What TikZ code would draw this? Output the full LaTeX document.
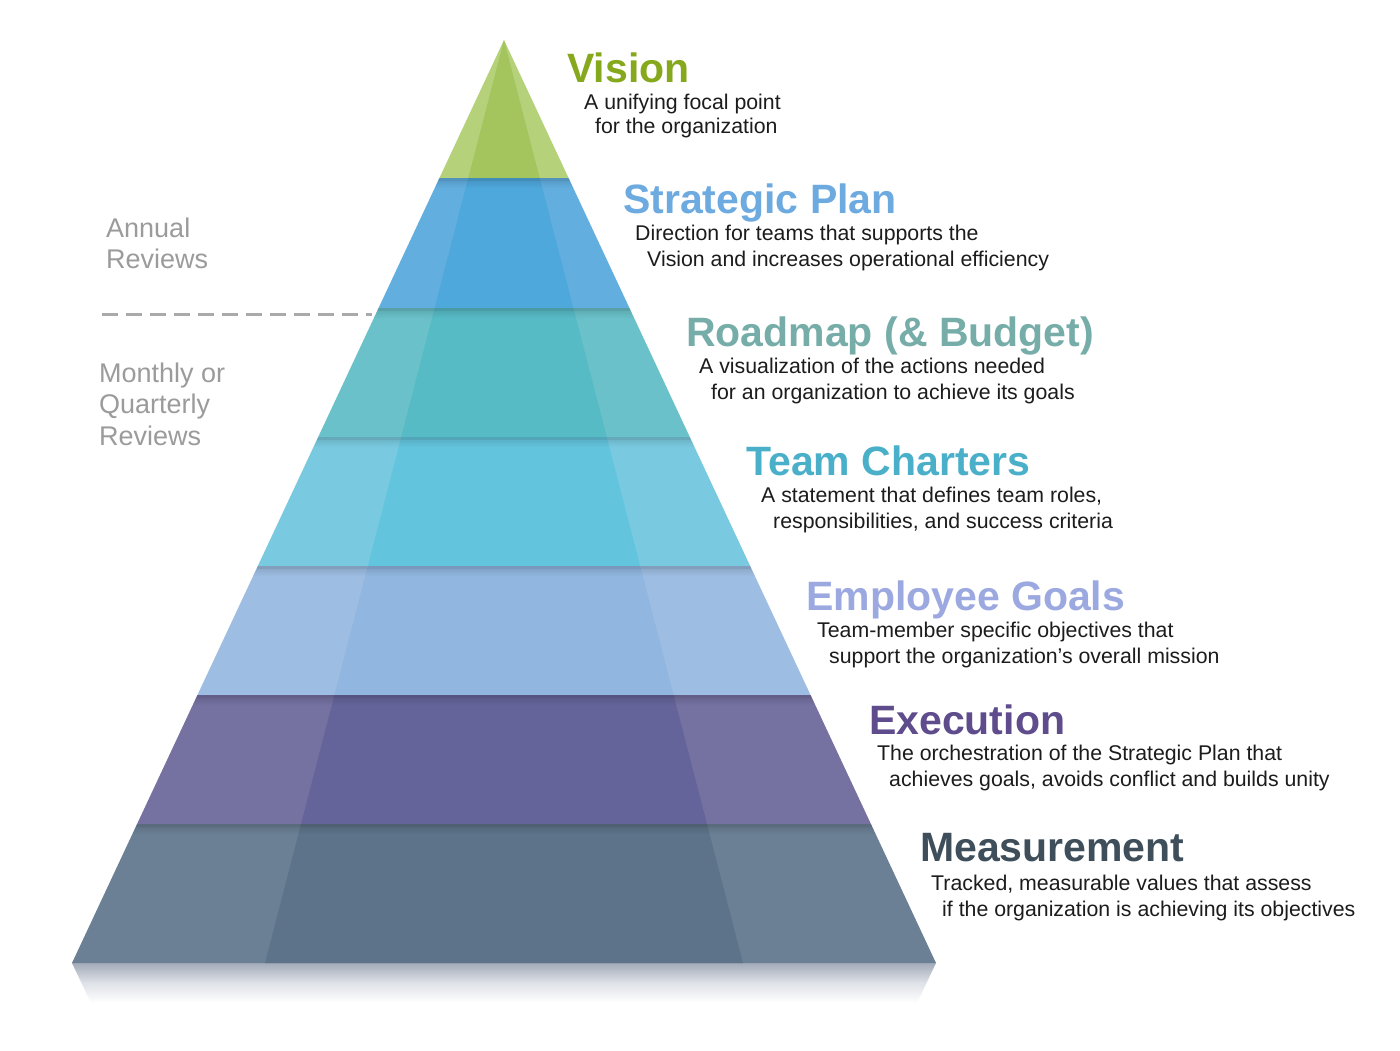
\documentclass[tikz,border=0pt]{standalone}
\usepackage{fontspec}
\setmainfont{Liberation Sans}
\usetikzlibrary{fadings}
\definecolor{visS}{HTML}{B5D27B}
\definecolor{visC}{HTML}{A4C45E}
\definecolor{strS}{HTML}{62AEDF}
\definecolor{strC}{HTML}{4FA8DC}
\definecolor{roaS}{HTML}{6AC1C9}
\definecolor{roaC}{HTML}{57BBC6}
\definecolor{teaS}{HTML}{79CAE0}
\definecolor{teaC}{HTML}{63C5DD}
\definecolor{empS}{HTML}{9DBDE2}
\definecolor{empC}{HTML}{91B6DF}
\definecolor{exeS}{HTML}{7571A1}
\definecolor{exeC}{HTML}{65649A}
\definecolor{meaS}{HTML}{6B8095}
\definecolor{meaC}{HTML}{5D7389}
\definecolor{tVis}{HTML}{86A81C}
\definecolor{tStr}{HTML}{6CAAE0}
\definecolor{tRoa}{HTML}{76ADA8}
\definecolor{tTea}{HTML}{4AAFC9}
\definecolor{tEmp}{HTML}{9CA9E0}
\definecolor{tExe}{HTML}{5E4C8C}
\definecolor{tMea}{HTML}{3F4E5B}
\definecolor{tDesc}{HTML}{1C1C1C}
\definecolor{tSide}{HTML}{9B9B9B}
\definecolor{reflC}{HTML}{A3ABBA}
\newcommand\pyrlayer[5]{%
  \pgfmathsetmacro\oLt{504-0.46804*(#1-40)}%
  \pgfmathsetmacro\oRt{504+0.46804*(#1-40)}%
  \pgfmathsetmacro\oLb{504-0.46804*(#2-40)}%
  \pgfmathsetmacro\oRb{504+0.46804*(#2-40)}%
  \pgfmathsetmacro\iLt{504-0.2589*(#1-40)}%
  \pgfmathsetmacro\iRt{504+0.2589*(#1-40)}%
  \pgfmathsetmacro\iLb{504-0.2589*(#2-40)}%
  \pgfmathsetmacro\iRb{504+0.2589*(#2-40)}%
  \fill[#3] (\oLt,#1) -- (\oRt,#1) -- (\oRb,#2) -- (\oLb,#2) -- cycle;
  \fill[#4] (\iLt,#1) -- (\iRt,#1) -- (\iRb,#2) -- (\iLb,#2) -- cycle;
  \ifnum#5=1
  \begin{scope}
    \clip (\oLt,#1) -- (\oRt,#1) -- (\oRb,#2) -- (\oLb,#2) -- cycle;
    \fill[black, opacity=0.16] (0,#1) rectangle (1400,#1+2.5);
    \fill[black, opacity=0.10, path fading=south] (0,#1+2.5) rectangle (1400,#1+10);
  \end{scope}
  \fi
}
\begin{document}
\begin{tikzpicture}[x=1pt, y=-1pt,
  title/.style={anchor=base west, inner sep=0pt, font=\fontsize{41}{45}\selectfont\bfseries},
  desc/.style={anchor=base west, inner sep=0pt, text=tDesc, font=\fontsize{21.3}{25}\selectfont},
  side/.style={anchor=base west, inner sep=0pt, text=tSide, font=\fontsize{27}{31}\selectfont},
  reviewline/.style={draw=tSide!85, line width=3pt, dash pattern=on 16pt off 8pt}]
\useasboundingbox (0,0) rectangle (1400,1050);
\fill[white] (0,0) rectangle (1400,1050);
% reflection
\shade[top color=reflC, bottom color=white, middle color=reflC!35] (72,963) -- (936,963) -- (917,1003) -- (91,1003) -- cycle;
% pyramid layers
\pyrlayer{40}{178}{visS}{visC}{0}
\pyrlayer{178}{308}{strS}{strC}{1}
\pyrlayer{308}{437}{roaS}{roaC}{1}
\pyrlayer{437}{566}{teaS}{teaC}{1}
\pyrlayer{566}{695}{empS}{empC}{1}
\pyrlayer{695}{824}{exeS}{exeC}{1}
\pyrlayer{824}{963}{meaS}{meaC}{1}
% titles and descriptions
\node[title, text=tVis] (vt) at (567,82) {Vision};
\node[desc] (vd1) at (584,109) {A unifying focal point};
\node[desc] (vd2) at (595,133) {for the organization};
\node[title, text=tStr] (st) at (623,213) {Strategic Plan};
\node[desc] (sd1) at (635,240) {Direction for teams that supports the};
\node[desc] (sd2) at (647,266) {Vision and increases operational efficiency};
\node[title, text=tRoa] (rt) at (686,346) {Roadmap (\& Budget)};
\node[desc] (rd1) at (699,373) {A visualization of the actions needed};
\node[desc] (rd2) at (711,399) {for an organization to achieve its goals};
\node[title, text=tTea] (tt) at (746,475) {Team Charters};
\node[desc] (td1) at (761,502) {A statement that defines team roles,};
\node[desc] (td2) at (773,528) {responsibilities, and success criteria};
\node[title, text=tEmp] (et) at (806,610) {Employee Goals};
\node[desc] (ed1) at (817,637) {Team-member specific objectives that};
\node[desc] (ed2) at (829,663) {support the organization’s overall mission};
\node[title, text=tExe] (xt) at (869,734) {Execution};
\node[desc] (xd1) at (877,760) {The orchestration of the Strategic Plan that};
\node[desc] (xd2) at (889,786) {achieves goals, avoids conflict and builds unity};
\node[title, text=tMea] (mt) at (920,861) {Measurement};
\node[desc] (md1) at (931,890) {Tracked, measurable values that assess};
\node[desc] (md2) at (942,916) {if the organization is achieving its objectives};
% review labels
\node[side] (an1) at (106,237) {Annual};
\node[side] (an2) at (106,268) {Reviews};
\coordinate (dl) at (102,314);
\coordinate (dr) at (372,314);
\draw[reviewline] (dl) -- (dr);
\node[side] (mo1) at (99,382) {Monthly or};
\node[side] (mo2) at (99,413) {Quarterly};
\node[side] (mo3) at (99,445) {Reviews};
\end{tikzpicture}
\end{document}
